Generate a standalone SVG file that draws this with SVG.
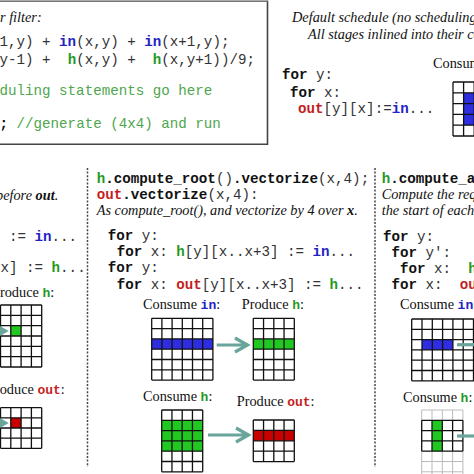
<svg xmlns="http://www.w3.org/2000/svg" width="474" height="474" viewBox="0 0 474 474" xml:space="preserve">
<style>
text{white-space:pre}
.m{font-family:"Liberation Mono",monospace;font-size:14.2px;fill:#333}
.k{font-weight:bold;fill:#111}
.b{font-weight:bold;fill:#2323c4}
.g{font-weight:bold;fill:#1f9a1f}
.r{font-weight:bold;fill:#c41f1f}
.c{fill:#4ea64e}
.s{font-family:"Liberation Serif",serif;font-size:14.3px;fill:#111}
.i{font-style:italic}
.lm{font-family:"Liberation Mono",monospace;font-size:13px;font-weight:bold}
.grid{fill:none;stroke:#111;stroke-width:1.3}
.lgrid{fill:none;stroke:#bbb;stroke-width:1}
.sep{fill:none;stroke:#444;stroke-width:1.5;stroke-dasharray:2 1.6}
.arr{fill:none;stroke:#6aa59b;stroke-width:3.2;stroke-linejoin:miter}
.blue{fill:#2e2ee0}
.green{fill:#22c822}
.red{fill:#c80000}
</style>
<rect x="0" y="0" width="474" height="474" fill="#fff"/>
<g id="algorithm-box">
<path d="M-2 1.2H267.5V144.3H-2" fill="none" stroke="#444" stroke-width="1.6"/>
<path d="M0 0.8H267.5" stroke="#aaa" stroke-width="1.6"/>
<text class="s i" x="0" y="22">r filter:</text>
<text class="m" x="-0.5" y="46">1,y) + <tspan class="b">in</tspan>(x,y) + <tspan class="b">in</tspan>(x+1,y);</text>
<text class="m" x="-0.5" y="64">y-1) +  <tspan class="g">h</tspan>(x,y) +  <tspan class="g">h</tspan>(x,y+1))/9;</text>
<text class="m c" x="-0.5" y="95">duling statements go here</text>
<text class="m" x="-0.5" y="128"><tspan class="k">;</tspan><tspan class="c"> //generate (4x4) and run</tspan></text>
</g>
<g id="default-schedule">
<text class="s i" x="292" y="22">Default schedule (no scheduling</text>
<text class="s i" x="308" y="39">All stages inlined into their co</text>
<text class="s" x="433" y="68">Consume</text>
<text class="m" x="282" y="79"><tspan class="k">for</tspan> y:</text>
<text class="m" x="290" y="97"><tspan class="k">for</tspan> x:</text>
<text class="m" x="298" y="113"><tspan class="r">out</tspan>[y][x]:=<tspan class="b">in</tspan>...</text>
<rect class="blue" x="463.6" y="92.8" width="20" height="32.4"/>
<path class="grid" d="M453 82V136M463.6 82V136M474.2 82V136M453 82H480M453 92.8H480M453 103.6H480M453 114.4H480M453 125.2H480M453 136H480"/>
</g>
<g id="compute-root">
<text class="s i" x="-4" y="200">before <tspan font-weight="bold">out</tspan>.</text>
<text class="m" x="9" y="241">:= <tspan class="b">in</tspan>...</text>
<text class="m" x="0.5" y="272">x] := <tspan class="g">h</tspan>...</text>
<text class="s" x="-8" y="297">Produce <tspan class="lm g">h</tspan>:</text>
<rect class="green" x="10.8" y="325.7" width="10.3" height="10.3"/>
<path class="grid" d="M0.5 305V367M10.8 305V367M21.1 305V367M31.4 305V367M41.7 305V367M0.5 305H41.7M0.5 315.3H41.7M0.5 325.7H41.7M0.5 336H41.7M0.5 346.3H41.7M0.5 356.7H41.7M0.5 367H41.7"/>
<text class="s" x="-13" y="394">Produce <tspan class="lm r">out</tspan>:</text>
<rect class="red" x="10.8" y="417.85" width="10.3" height="10.15"/>
<path class="grid" d="M0.5 407.7V448.3M10.8 407.7V448.3M21.1 407.7V448.3M31.4 407.7V448.3M41.7 407.7V448.3M0.5 407.7H41.7M0.5 417.85H41.7M0.5 428H41.7M0.5 438.15H41.7M0.5 448.3H41.7"/>
</g>
<g id="vectorize">
<text class="m" x="96.7" y="182.5"><tspan class="g">h</tspan><tspan class="k">.compute_root</tspan>()<tspan class="k">.vectorize</tspan>(x,4);</text>
<text class="m" x="96.7" y="199"><tspan class="r">out</tspan><tspan class="k">.vectorize</tspan>(x,4):</text>
<text class="s i" x="96.7" y="215">As compute_root(), and vectorize by 4 over <tspan font-weight="bold">x</tspan>.</text>
<text class="m" x="107.7" y="240"><tspan class="k">for</tspan> y:</text>
<text class="m" x="116.7" y="256"><tspan class="k">for</tspan> x: <tspan class="g">h</tspan>[y][x..x+3] := <tspan class="b">in</tspan>...</text>
<text class="m" x="107.7" y="272"><tspan class="k">for</tspan> y:</text>
<text class="m" x="116.7" y="289"><tspan class="k">for</tspan> x: <tspan class="r">out</tspan>[y][x..x+3] := <tspan class="g">h</tspan>...</text>
<text class="s" x="143" y="309">Consume <tspan class="lm b">in</tspan>:</text>
<rect class="blue" x="151.7" y="338.9" width="61.2" height="10.3"/>
<path class="grid" d="M151.7 318.3V380.1M161.9 318.3V380.1M172.1 318.3V380.1M182.3 318.3V380.1M192.5 318.3V380.1M202.7 318.3V380.1M212.9 318.3V380.1M151.7 318.3H212.9M151.7 328.6H212.9M151.7 338.9H212.9M151.7 349.2H212.9M151.7 359.5H212.9M151.7 369.8H212.9M151.7 380.1H212.9"/>
<text class="s" x="241.7" y="309">Produce <tspan class="lm g">h</tspan>:</text>
<rect class="green" x="253.3" y="338.9" width="41" height="10.3"/>
<path class="grid" d="M253.3 318.3V380.1M263.55 318.3V380.1M273.8 318.3V380.1M284.05 318.3V380.1M294.3 318.3V380.1M253.3 318.3H294.3M253.3 328.6H294.3M253.3 338.9H294.3M253.3 349.2H294.3M253.3 359.5H294.3M253.3 369.8H294.3M253.3 380.1H294.3"/>
<text class="s" x="143" y="401">Consume <tspan class="lm g">h</tspan>:</text>
<rect class="green" x="161.7" y="420.3" width="41" height="30.9"/>
<path class="grid" d="M161.7 410V471.8M171.95 410V471.8M182.2 410V471.8M192.45 410V471.8M202.7 410V471.8M161.7 410H202.7M161.7 420.3H202.7M161.7 430.6H202.7M161.7 440.9H202.7M161.7 451.2H202.7M161.7 461.5H202.7M161.7 471.8H202.7"/>
<text class="s" x="236.7" y="406">Produce <tspan class="lm r">out</tspan>:</text>
<rect class="red" x="253.3" y="430.4" width="41" height="10.4"/>
<path class="grid" d="M253.3 420V461.6M263.55 420V461.6M273.8 420V461.6M284.05 420V461.6M294.3 420V461.6M253.3 420H294.3M253.3 430.4H294.3M253.3 440.8H294.3M253.3 451.2H294.3M253.3 461.6H294.3"/>
</g>
<g id="compute-at">
<text class="m" x="381.7" y="182.5"><tspan class="g">h</tspan><tspan class="k">.compute_a</tspan></text>
<text class="s i" x="381.7" y="199">Compute the req</text>
<text class="s i" x="381.7" y="215">the start of each</text>
<text class="m" x="383" y="241"><tspan class="k">for</tspan> y:</text>
<text class="m" x="391.5" y="257"><tspan class="k">for</tspan> y':</text>
<text class="m" x="400" y="273"><tspan class="k">for</tspan> x:  <tspan class="g">h</tspan></text>
<text class="m" x="391.5" y="289"><tspan class="k">for</tspan> x:  <tspan class="r">ou</tspan></text>
<text class="s" x="400" y="309">Consume <tspan class="lm b">in</tspan></text>
<rect class="blue" x="422" y="339.6" width="30.9" height="10.3"/>
<path class="grid" d="M411.7 319V380.8M422 319V380.8M432.3 319V380.8M442.6 319V380.8M452.9 319V380.8M463.2 319V380.8M473.5 319V380.8M411.7 319H480M411.7 329.3H480M411.7 339.6H480M411.7 349.9H480M411.7 360.2H480M411.7 370.5H480M411.7 380.8H480"/>
<text class="s" x="403" y="402">Consume <tspan class="lm g">h</tspan>:</text>
<path class="lgrid" d="M421.7 410V420.3M432 410V420.3M442.3 410V420.3M452.6 410V420.3M462.9 410V420.3M421.7 410H462.9M421.7 451.2V474M432 451.2V474M442.3 451.2V474M452.6 451.2V474M462.9 451.2V474M421.7 461.5H462.9M421.7 471.8H462.9"/>
<rect class="green" x="432" y="420.3" width="10.3" height="30.9"/>
<path class="grid" d="M421.7 420.3V451.2M432 420.3V451.2M442.3 420.3V451.2M452.6 420.3V451.2M462.9 420.3V451.2M421.7 420.3H462.9M421.7 430.6H462.9M421.7 440.9H462.9M421.7 451.2H462.9"/>
</g>
<g id="connectors">
<path class="sep" d="M87.5 168V467M375 168V467"/>
<path class="arr" d="M-20 331H4M-6 324.5L5.5 331L-6 337.5"/>
<path class="arr" d="M-20 423H4M-6 416.5L5.5 423L-6 429.5"/>
<path class="arr" d="M216.7 345H246M235 338L247.5 345L235 352"/>
<path class="arr" d="M208 435H248M236 428L248.5 435L236 442"/>
<path class="arr" d="M457 344.7H480"/>
<path class="arr" d="M457 436H480"/>
</g>
</svg>
